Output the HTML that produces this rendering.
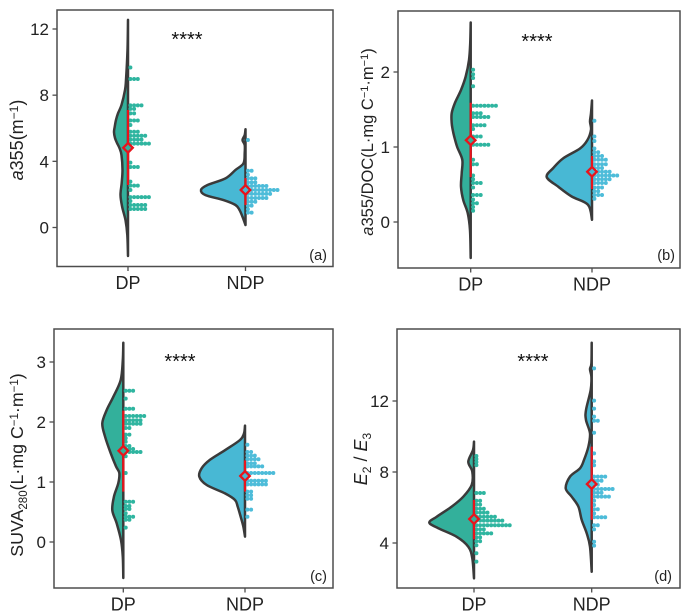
<!DOCTYPE html>
<html>
<head>
<meta charset="utf-8">
<style>
html,body{margin:0;padding:0;background:#fff;width:685px;height:611px;overflow:hidden}
svg{display:block;font-family:"Liberation Sans",sans-serif}
</style>
</head>
<body>
<svg id="chart" width="685" height="611" viewBox="0 0 685 611" xmlns="http://www.w3.org/2000/svg">
<rect width="685" height="611" fill="#fff"/>
<g id="marks"></g>
<text transform="translate(23,140) rotate(-90)" text-anchor="middle" font-size="18" fill="#222"><tspan font-style="italic">a</tspan>355(m<tspan dy="-5" font-size="12">−1</tspan><tspan dy="5">)</tspan></text>
<text transform="translate(373,142) rotate(-90)" text-anchor="middle" font-size="16.5" fill="#222"><tspan font-style="italic">a</tspan>355/DOC(L·mg C<tspan dy="-5" font-size="11">−1</tspan><tspan dy="5">·m</tspan><tspan dy="-5" font-size="11">−1</tspan><tspan dy="5">)</tspan></text>
<text transform="translate(23,465) rotate(-90)" text-anchor="middle" font-size="17.8" fill="#222">SUVA<tspan dy="4" font-size="11.5">280</tspan><tspan dy="-4">(L·mg C</tspan><tspan dy="-5" font-size="11.5">−1</tspan><tspan dy="5">·m</tspan><tspan dy="-5" font-size="11.5">−1</tspan><tspan dy="5">)</tspan></text>
<text transform="translate(367,459) rotate(-90)" text-anchor="middle" font-size="18" fill="#222" font-style="italic">E<tspan dy="4" font-size="12" font-style="normal">2</tspan><tspan dy="-4" font-style="normal"> / </tspan>E<tspan dy="4" font-size="12" font-style="normal">3</tspan></text>
<text x="187" y="46" text-anchor="middle" font-size="20" fill="#111">****</text>
<text x="537" y="48" text-anchor="middle" font-size="20" fill="#111">****</text>
<text x="180" y="368" text-anchor="middle" font-size="20" fill="#111">****</text>
<text x="533" y="368" text-anchor="middle" font-size="20" fill="#111">****</text>
<text x="327" y="260" text-anchor="end" font-size="14.5" fill="#222">(a)</text>
<text x="675" y="260" text-anchor="end" font-size="14.5" fill="#222">(b)</text>
<text x="327" y="581" text-anchor="end" font-size="14.5" fill="#222">(c)</text>
<text x="672" y="581" text-anchor="end" font-size="14.5" fill="#222">(d)</text>
</svg>
<script>
// Shared categories
const categories = ['DP', 'NDP'];

// Panel (a)
const aTicks = [0, 4, 8, 12];
const aDpCurveV = [12.55,10.73,8.92,8.31,7.41,6.9,6.5,6.08,5.77,5.41,5.11,4.8,4.38,3.48,2.69,1.96,1.24,.45,-.45,-1.72];
const aDpCurveD = [0,.5,2,3,6.5,10,12,13.3,14,13,11,8.5,6.5,5.5,6.3,7.5,5.8,2.5,.7,0];
const aDpDotV = [9.67,8.98,7.38,7.17,6.9,6.47,6.2,5.79,5.55,5.31,5.07,3.92,3.66,2.77,2.53,2.27,1.84,1.6,1.36,1.12];
const aDpDotN = [1,3,4,2,2,3,1,3,5,4,6,1,3,1,3,1,6,1,5,5];
const aDpStats = [4.82,2.57,7.1];
const aNdpCurveV = [5.94,5.59,5.29,4.99,4.5,3.88,3.48,2.97,2.57,2.27,1.96,1.66,1.36,1.06,.65,.15];
const aNdpCurveD = [0,.8,3,.8,.8,2,10,20,38,44.5,40,22,10,6,3,0];
const aNdpDotV = [5.29,3.43,3.19,2.97,2.73,2.51,2.27,2.03,1.78,1.56,1.32,1.1,.9];
const aNdpDotN = [1,2,1,3,3,6,9,7,6,3,2,1,2];
const aNdpStats = [2.27,1.36,2.99];

// Panel (b)
const bTicks = [0, 1, 2];
const bDpCurveV = [2.66,2.38,2.16,1.94,1.76,1.59,1.45,1.32,1.23,1.14,1.0,.83,.65,.47,.29,.12,-.11,-.48];
const bDpCurveD = [0,.5,1.7,5,9.7,15.7,19,19,18,16.5,13.5,8.4,9,9.7,7.4,3,.7,0];
const bDpDotV = [2.03,1.97,1.92,1.81,1.55,1.45,1.40,1.29,1.24,1.14,1.08,1.03,.83,.77,.62,.57,.52,.46,.36,.30,.25,.2,.15];
const bDpDotN = [1,1,1,1,7,3,5,4,1,3,1,5,1,2,1,1,3,1,3,1,2,1,1];
const bDpStats = [1.09,.6,1.59];
const bNdpCurveV = [1.62,1.45,1.34,1.23,1.09,.98,.85,.72,.6,.47,.34,.23,.03];
const bNdpCurveD = [0,1,2,1,4.7,12,28.7,38.7,45.3,33.7,20.3,4,0];
const bNdpDotV = [1.35,1.14,1.08,.98,.93,.88,.83,.77,.72,.67,.62,.57,.52,.46,.41,.36,.31];
const bNdpDotN = [1,1,1,1,2,3,4,4,3,5,7,5,4,3,2,3,1];
const bNdpStats = [.67,.44,.88];

// Panel (c)
const cTicks = [0, 1, 2, 3];
const cDpCurveV = [3.32,3.03,2.7,2.42,2.2,1.98,1.76,1.48,1.26,1.15,.98,.76,.53,.31,.03,-.25,-.6];
const cDpCurveD = [0,.5,2.6,10,16.6,21,18.3,12.6,7.3,4,5,9.3,11,6.6,2.3,.5,0];
const cDpDotV = [2.52,2.39,2.22,2.1,2.03,1.97,1.9,1.79,1.73,1.67,1.6,1.55,1.5,1.43,1.15,.67,.6,.55,.48,.42,.37,.24];
const cDpDotN = [3,1,3,6,5,5,2,2,1,1,2,3,5,1,1,3,2,2,1,3,2,1];
const cDpStats = [1.52,.84,2.19];
const cNdpCurveV = [1.94,1.81,1.7,1.53,1.37,1.23,1.09,.95,.81,.7,.59,.42,.26,.09];
const cNdpCurveD = [0,1,5,20,35,43.3,45.7,38.3,20,10,7.3,4.3,1.7,0];
const cNdpDotV = [1.62,1.5,1.44,1.38,1.31,1.26,1.15,1.02,.96,.84,.78,.72,.54,.42];
const cNdpDotN = [1,2,3,4,3,5,8,6,6,2,2,2,2,1];
const cNdpStats = [1.1,.84,1.36];

// Panel (d)
const dTicks = [4, 8, 12];
const dDpCurveV = [9.71,9.24,8.58,8.02,7.27,6.61,6.05,5.48,5.15,4.83,4.35,3.79,3.14,2.01];
const dDpCurveD = [0,1,5.7,1.7,2.3,10.7,22.3,37.3,44.7,35.7,17.3,5.7,1.7,0];
const dDpDotV = [8.9,8.73,8.56,8.39,6.82,6.38,6.16,5.93,5.71,5.48,5.26,5.0,4.77,4.54,4.32,4.1,3.87,3.42,2.95];
const dDpDotN = [1,1,1,1,3,2,2,3,4,6,8,10,3,5,2,2,1,1,1];
const dDpStats = [5.35,4.21,6.42];
const dNdpCurveV = [15.28,14.12,13.79,13.37,12.62,11.49,10.93,10.18,9.43,8.68,8.21,7.74,7.08,6.61,6.05,5.3,4.55,3.79,2.38];
const dNdpCurveD = [0,.3,1.7,.3,1,5.7,5.7,1.7,3.3,7.7,11.7,21.7,26,20,13.3,10,5,1.7,0];
const dNdpDotV = [13.84,12.02,11.57,11.12,10.89,10.21,9.05,8.6,8.38,7.74,7.51,7.28,7.04,6.83,6.61,6.38,6.14,5.9,5.67,5.45,5.0,4.77,4.07,3.85];
const dNdpDotN = [1,1,1,1,2,1,1,1,1,4,3,2,6,3,5,1,1,2,1,4,2,1,1,1];
const dNdpStats = [7.32,5.3,9.43];

const NS = 'http://www.w3.org/2000/svg';
const root = document.getElementById('marks');
const fills = ['#33b09b', '#48b8d4'];
const dotFills = ['#2fb5a0', '#4dbcd9'];

function mk(tag, attrs, parent) {
  const el = document.createElementNS(NS, tag);
  for (const k in attrs) el.setAttribute(k, attrs[k]);
  parent.appendChild(el);
  return el;
}

// Catmull-Rom smoothing through a list of points
function smooth(p) {
  let d = 'M' + p[0][0].toFixed(2) + ',' + p[0][1].toFixed(2);
  for (let i = 0; i < p.length - 1; i++) {
    const a = p[Math.max(i - 1, 0)], b = p[i], c = p[i + 1], e = p[Math.min(i + 2, p.length - 1)];
    const c1 = [b[0] + (c[0] - a[0]) / 6, b[1] + (c[1] - a[1]) / 6];
    const c2 = [c[0] - (e[0] - b[0]) / 6, c[1] - (e[1] - b[1]) / 6];
    d += 'C' + c1[0].toFixed(2) + ',' + c1[1].toFixed(2) + ' ' + c2[0].toFixed(2) + ',' + c2[1].toFixed(2) + ' ' + c[0].toFixed(2) + ',' + c[1].toFixed(2);
  }
  return d;
}

function drawGroup(g, yScale, cx, idx, curveV, curveD, dotV, dotN, stats, step) {
  const groupG = mk('g', {}, g);
  
  

  const pts = curveV.map((v, i) => [cx - curveD[i], yScale(v)]);
  const violin = mk('path', {
    d: smooth(pts) + 'Z',
    fill: fills[idx], stroke: '#3a3a3a', 'stroke-width': 2.5, 'stroke-linejoin': 'round'
  }, groupG);
  
  

  dotV.forEach((v, i) => {
    for (let k = 0; k < dotN[i]; k++) {
      const dot = mk('circle', {
        cx: cx + 2.4 + k * step, cy: yScale(v), r: 2, fill: dotFills[idx]
      }, groupG);
      
      
    }
  });

  const mean = stats[0], lo = stats[1], hi = stats[2];
  const bar = mk('line', {
    x1: cx, x2: cx, y1: yScale(hi), y2: yScale(lo), stroke: '#e8141c', 'stroke-width': 2.2
  }, groupG);
  
  

  const my = yScale(mean), r = 4.8;
  const diamond = mk('polygon', {
    points: [[cx - r, my], [cx, my - r], [cx + r, my], [cx, my + r]].map(q => q.join(',')).join(' '),
    fill: fills[idx], stroke: '#e8141c', 'stroke-width': 2.3
  }, groupG);
  
  
}

function drawPanel(name, frame, domainRef, rangeRef, centers, ticks, groups, step) {
  const g = mk('g', {}, root);
  
  

  const yScale = v => rangeRef[0] + (v - domainRef[0]) * (rangeRef[1] - rangeRef[0]) / (domainRef[1] - domainRef[0]);
  const xScale = i => centers[i];

  const box = mk('rect', {
    x: frame[0], y: frame[1], width: frame[2] - frame[0], height: frame[3] - frame[1],
    fill: '#fff', stroke: '#4d4d4d', 'stroke-width': 1.5
  }, g);
  
  

  ticks.forEach(t => {
    const tk = mk('line', { x1: frame[0] - 4.5, x2: frame[0], y1: yScale(t), y2: yScale(t), stroke: '#4d4d4d', 'stroke-width': 1.3 }, g);
    
    
    const lb = mk('text', { x: frame[0] - 8, y: yScale(t) + 6, 'text-anchor': 'end', 'font-size': 17, fill: '#222' }, g);
    
    
    lb.textContent = t;
  });

  categories.forEach((c, i) => {
    const tk = mk('line', { x1: xScale(i), x2: xScale(i), y1: frame[3], y2: frame[3] + 4.5, stroke: '#4d4d4d', 'stroke-width': 1.3 }, g);
    
    
    const lb = mk('text', { x: xScale(i), y: frame[3] + 22.5, 'text-anchor': 'middle', 'font-size': 18, fill: '#222' }, g);
    
    
    lb.textContent = c;
  });

  groups.forEach((gr, i) => drawGroup(g, yScale, xScale(i), i, gr[0], gr[1], gr[2], gr[3], gr[4], step));
}

drawPanel('a', [57, 10, 333, 266.5], [0, 12], [227.5, 29], [128, 245.5], aTicks, [
  [aDpCurveV, aDpCurveD, aDpDotV, aDpDotN, aDpStats],
  [aNdpCurveV, aNdpCurveD, aNdpDotV, aNdpDotN, aNdpStats]
], 3.7);
drawPanel('b', [398, 11, 680, 268], [0, 2], [222, 72], [470.7, 592], bTicks, [
  [bDpCurveV, bDpCurveD, bDpDotV, bDpDotN, bDpStats],
  [bNdpCurveV, bNdpCurveD, bNdpDotV, bNdpDotN, bNdpStats]
], 3.8);
drawPanel('c', [54, 329, 333, 588], [0, 3], [542, 362], [123.3, 245], cTicks, [
  [cDpCurveV, cDpCurveD, cDpDotV, cDpDotN, cDpStats],
  [cNdpCurveV, cNdpCurveD, cNdpDotV, cNdpDotN, cNdpStats]
], 3.7);
drawPanel('d', [397, 329, 680, 588], [4, 12], [543, 401], [474, 591.7], dTicks, [
  [dDpCurveV, dDpCurveD, dDpDotV, dDpDotN, dDpStats],
  [dNdpCurveV, dNdpCurveD, dNdpDotV, dNdpDotN, dNdpStats]
], 3.7);
</script>
</body>
</html>
